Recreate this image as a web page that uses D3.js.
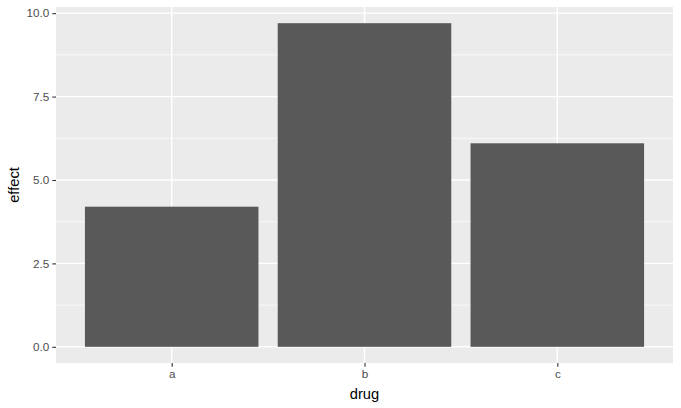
<!DOCTYPE html>
<html>
<head>
<meta charset="utf-8">
<script src="https://cdn.jsdelivr.net/npm/d3@7"></script>
<style>
  body { margin: 0; background: #fff; }
  svg { display: block; font-family: "Liberation Sans", Arial, sans-serif; }
</style>
</head>
<body>
<svg width="681" height="408"></svg>
<script>
var drugs = ["a", "b", "c"];
var effects = [4.2, 9.7, 6.1];
var yTicks = [0, 2.5, 5, 7.5, 10];
var yMinor = [1.25, 3.75, 6.25, 8.75];

var margin = {top: 7, right: 8, bottom: 45, left: 56};
var width = 681 - margin.left - margin.right;
var height = 408 - margin.top - margin.bottom;

var svg = d3.select("svg");
var g = svg.append("g")
    .attr("transform", "translate(" + margin.left + "," + margin.top + ")");

// discrete axis, ggplot style expansion of 0.6 per side
var x = d3.scalePoint()
    .domain(drugs)
    .range([width * 0.6 / 3.2, width * 2.6 / 3.2]);
var step = width / 3.2;
var barWidth = 0.9 * step;

var maxVal = d3.max(effects);
var pad = maxVal * 0.05;
var y = d3.scaleLinear()
    .domain([-pad, maxVal + pad])
    .range([height, 0]);

// panel background
g.append("rect")
    .attr("width", width)
    .attr("height", height)
    .attr("fill", "#EBEBEB");

// minor grid
g.selectAll(".minor-y")
    .data(yMinor)
    .enter()
    .append("line")
    .attr("x1", 0).attr("x2", width)
    .attr("y1", function(d) { return y(d); })
    .attr("y2", function(d) { return y(d); })
    .attr("stroke", "#fff")
    .attr("stroke-width", 0.7);

// major grid
g.selectAll(".major-y")
    .data(yTicks)
    .enter()
    .append("line")
    .attr("x1", 0).attr("x2", width)
    .attr("y1", function(d) { return y(d); })
    .attr("y2", function(d) { return y(d); })
    .attr("stroke", "#fff")
    .attr("stroke-width", 1.4);

g.selectAll(".major-x")
    .data(drugs)
    .enter()
    .append("line")
    .attr("y1", 0).attr("y2", height)
    .attr("x1", function(d) { return x(d); })
    .attr("x2", function(d) { return x(d); })
    .attr("stroke", "#fff")
    .attr("stroke-width", 1.4);

// bars
g.selectAll(".bar")
    .data(drugs)
    .enter()
    .append("rect")
    .attr("x", function(d) { return x(d) - barWidth / 2; })
    .attr("width", barWidth)
    .attr("y", function(d, i) { return y(effects[i]); })
    .attr("height", function(d, i) { return y(0) - y(effects[i]); })
    .attr("fill", "#595959");

// axes
var yAxis = g.append("g")
    .call(d3.axisLeft(y).tickValues(yTicks).tickFormat(d3.format(".1f")).tickSize(3.7).tickPadding(3));
var xAxis = g.append("g")
    .attr("transform", "translate(0," + height + ")")
    .call(d3.axisBottom(x).tickSize(3.7).tickPadding(3));

[yAxis, xAxis].forEach(function(ax) {
    ax.select(".domain").remove();
    ax.selectAll(".tick line").attr("stroke", "#333333").attr("stroke-width", 1.1);
    ax.selectAll(".tick text")
        .attr("fill", "#4D4D4D")
        .style("font-size", "11.7px")
        .style("font-family", "'Liberation Sans', Arial, sans-serif");
});

// axis titles
svg.append("text")
    .attr("x", margin.left + width / 2)
    .attr("y", 399)
    .attr("text-anchor", "middle")
    .style("font-size", "14.7px")
    .attr("fill", "#000")
    .text("drug");

svg.append("text")
    .attr("transform", "translate(19," + (margin.top + height / 2) + ") rotate(-90)")
    .attr("text-anchor", "middle")
    .style("font-size", "14.7px")
    .attr("fill", "#000")
    .text("effect");
</script>
</body>
</html>
